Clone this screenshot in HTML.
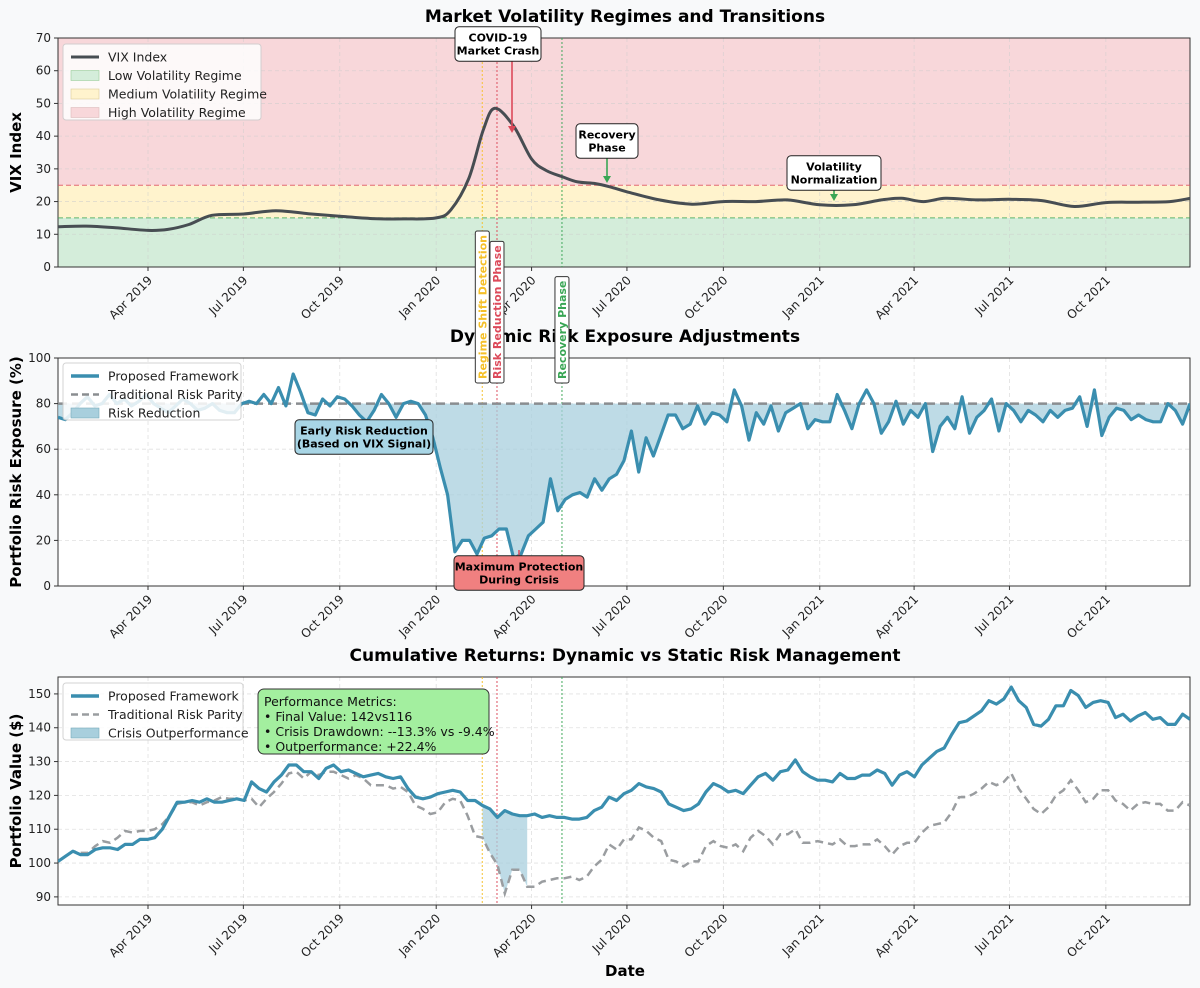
<!DOCTYPE html>
<html><head><meta charset="utf-8"><style>
html,body{margin:0;padding:0;background:#f8f9fa;}
svg{display:block;font-family:"DejaVu Sans","Liberation Sans",sans-serif;}
</style></head><body>
<svg id="c" width="1200" height="988"></svg>
<script>
// ---------- data ----------
const vixDates=["2019-01-05","2019-02-01","2019-03-01","2019-04-01","2019-04-20","2019-05-10","2019-06-01","2019-07-01","2019-08-01","2019-09-01","2019-10-01","2019-11-01","2019-12-01","2020-01-01","2020-01-15","2020-02-01","2020-02-15","2020-02-26","2020-03-15","2020-04-01","2020-04-15","2020-05-01","2020-05-15","2020-06-01","2020-06-15","2020-07-01","2020-08-01","2020-09-01","2020-10-01","2020-11-01","2020-12-01","2021-01-01","2021-02-01","2021-03-01","2021-03-20","2021-04-10","2021-05-01","2021-06-01","2021-07-01","2021-08-01","2021-09-01","2021-10-01","2021-11-01","2021-12-01","2021-12-21"];
const vixValues=[12.3,12.5,12,11.2,11.5,13,15.8,16.2,17.2,16.3,15.5,14.8,14.7,15,17.5,27,42,48.5,43,33,29.5,27.5,26,25.5,24.5,23,20.5,19.2,20,20,20.5,19,19,20.5,21,20,21,20.5,20.7,20.3,18.5,19.7,19.8,20,21];
const tickLabels=["Apr 2019","Jul 2019","Oct 2019","Jan 2020","Apr 2020","Jul 2020","Oct 2020","Jan 2021","Apr 2021","Jul 2021","Oct 2021"];
const tickDates=["2019-04-01","2019-07-01","2019-10-01","2020-01-01","2020-04-01","2020-07-01","2020-10-01","2021-01-01","2021-04-01","2021-07-01","2021-10-01"];
const exposure=[74,73,76,80,83,79,80,84,80,82,79,81,84,80,78,76,79,82,80,77,78,80,77,76,76,80,81,80,84,80,87,79,93,85,76,75,82,79,83,82,79,75,72,77,84,80,74,80,81,80,75,65,52,40,15,20,20,14,21,22,25,25,12,14,22,25,28,47,33,38,40,41,39,47,42,47,49,55,68,50,65,57,66,75,75,69,71,79,71,76,75,72,86,79,64,76,71,79,68,76,78,80,69,73,72,72,84,77,69,80,86,80,67,72,81,71,77,74,80,59,70,74,69,83,67,74,77,82,68,80,77,72,77,75,72,77,74,77,78,83,70,86,66,74,78,77,73,75,73,72,72,80,77,71,80];
const parityExposure=80;
const proposed=[100.5,102,103.5,102.5,102.5,104,104.5,104.5,104,105.5,105.5,107,107,107.5,110,114,118,118,118.5,118,119,118,118,118.5,119,118.5,124,122,121,124,126,129,129,127,127,125,128,129,127,127.5,126.5,125.5,126,126.5,125.5,125,125.5,122,119.5,119,119.5,120.5,121,121.5,121,118.5,118.5,117,116,113.5,115.5,114.5,114,114,114.5,113.5,114,113.5,113.5,113,113,113.5,115.5,116.5,119.5,118.5,120.5,121.5,123.5,122.5,122,121,117.5,116.5,115.5,116,117.5,121,123.5,122.5,121,121.5,120.5,123,125.5,126.5,124.5,127,127.5,130.5,127,125.5,124.5,124.5,124,126.5,125,125,126,126,127.5,126.5,123,126,127,125.5,129,131,133,134,138,141.5,142,143.5,145,148,147,148.5,152,148,146,141,140.5,142.5,146.5,146.5,151,149.5,146,147.5,148,147.5,143,144,142,143.5,144.5,142.5,143,141,141,144,142.5];
const traditional=[100.5,102,103.5,103,103,105,106.5,106,107.5,109.5,109,109.5,109.5,110,111.5,114,117.5,118,118,117,118,118.5,119.5,119,119,118.5,119,116.5,119,121,123.5,126.5,127,125,127,126,127,127,126,125,126,125,123,123,123,122,122.5,121,117,116,114.5,115,118,119,118.5,114,108,107.5,103,99.5,91,98,98,93,93,94.5,95,95.5,95.5,96,95,96,99,101,105.5,104,107,107,110.5,109.5,107.5,106.5,101,100.5,99,100.5,100.5,105,106.5,105,104.5,105.5,103.5,107.5,109.5,108,105.5,108.5,108.5,110,106,106,106.5,106,105.5,107,105,105,105.5,105.5,107,105,102.5,105,106,106,109,111,111.5,112,115,119.5,119.5,120.5,122,124,123,124,126.5,122,119,116,114.5,116.5,120,121.5,124.5,121.5,118,119,121.5,121.5,118.5,117.5,115.5,117.5,118,117.5,117.5,115.5,115.5,118,117];
const crisisStart="2020-02-14", crisisEnd="2020-03-28";
const eventDates=["2020-02-14","2020-02-28","2020-04-30"];
const eventNames=["Regime Shift Detection","Risk Reduction Phase","Recovery Phase"];
const eventColors=["#f5c02a","#dc4a5a","#3aa655"];

// ---------- scales ----------
const NS="http://www.w3.org/2000/svg";
const svg=document.getElementById('c');
const X0=58,X1=1190;
const base=Date.UTC(2019,3,1);
function xd(s){const p=s.split('-');return 148+(Date.UTC(+p[0],+p[1]-1,+p[2])-base)/864e5*1.048;}
function xi(i,n){return X0+i*(X1-X0)/(n-1);}
const P=[{t:38,b:267,min:0,max:70},{t:358,b:586,min:0,max:100},{t:677,b:905,min:87.6,max:155}];
function ys(k,v){const p=P[k];return p.b-(v-p.min)/(p.max-p.min)*(p.b-p.t);}
function el(tag,a,parent){const e=document.createElementNS(NS,tag);for(const k in a)e.setAttribute(k,a[k]);(parent||svg).appendChild(e);return e;}
function txt(s,a,parent){const e=el('text',a,parent);e.textContent=s;return e;}
function clip(k){const c=el('clipPath',{id:'cp'+k});el('rect',{x:X0,y:P[k].t,width:X1-X0,height:P[k].b-P[k].t},c);return 'url(#cp'+k+')';}

function panelFrame(k,yt,ylabel,title){
  const p=P[k];
  el('rect',{x:X0,y:p.t,width:X1-X0,height:p.b-p.t,fill:'#fff'});
  return ()=>{
  const g=el('g',{});
  
  
  tickDates.forEach((d,i)=>{const x=xd(d);
    el('line',{x1:x,x2:x,y1:p.t,y2:p.b,stroke:'#ccc','stroke-dasharray':'4,3','stroke-width':0.8,opacity:0.6},g);
    el('line',{x1:x,x2:x,y1:p.b,y2:p.b+4,stroke:'#333'},g);
    const t=txt(tickLabels[i],{x:x+5,y:p.b+14,'font-size':12,'text-anchor':'end',transform:`rotate(-45 ${x+5} ${p.b+14})`,fill:'#222'},g);
    
    
  });
  yt.forEach(v=>{const y=ys(k,v);
    el('line',{x1:X0,x2:X1,y1:y,y2:y,stroke:'#ccc','stroke-dasharray':'4,3','stroke-width':0.8,opacity:0.6},g);
    el('line',{x1:X0-4,x2:X0,y1:y,y2:y,stroke:'#333'},g);
    txt(String(v),{x:X0-7,y:y+4,'font-size':12,'text-anchor':'end',fill:'#222'},g);
  });
  el('rect',{x:X0,y:p.t,width:X1-X0,height:p.b-p.t,fill:'none',stroke:'#333','stroke-width':1},g);
  const yl=txt(ylabel,{x:0,y:0,'font-size':15,'font-weight':'bold','text-anchor':'middle',transform:`translate(21 ${(p.t+p.b)/2}) rotate(-90)`},g);
  
  
  const tt=txt(title,{x:625,y:p.t-16,'font-size':17,'font-weight':'bold','text-anchor':'middle'},g);
  
  
  };
}
function vlines(k,gp){eventDates.forEach((d,i)=>{const x=xd(d);
  const l=el('line',{x1:x,x2:x,y1:P[k].t,y2:P[k].b,stroke:eventColors[i],'stroke-dasharray':'2,2','stroke-width':1.2,opacity:0.8},gp);
  
  
});}
function pathD(xs,ys_){return xs.map((x,i)=>(i?'L':'M')+x.toFixed(1)+' '+ys_[i].toFixed(1)).join(' ');}
function legend(x,y,w,h,items){
  const g=el('g',{});
  
  
  el('rect',{x,y,width:w,height:h,rx:3,fill:'#fff',opacity:0.85,stroke:'#ccc'},g);
  items.forEach((it,i)=>{const yy=y+13+i*18.5;
    if(it.type==='line')el('line',{x1:x+8,x2:x+36,y1:yy,y2:yy,stroke:it.c,'stroke-width':it.w,'stroke-dasharray':it.d||''},g);
    else el('rect',{x:x+8,y:yy-5,width:28,height:10,fill:it.c,stroke:it.s||'none','stroke-width':0.6},g);
    const t=txt(it.label,{x:x+45,y:yy+4.5,'font-size':12.5,fill:'#222'},g);
    
    
  });
}
function box(lines,cx,cy,fill,opts){
  opts=opts||{};const fs=opts.fs||11,lh=fs*1.2;
  const g=el('g',{});
  
  
  const w=opts.w,h=lines.length*lh+8;
  el('rect',{x:cx-w/2,y:cy-h/2,width:w,height:h,rx:4,fill,stroke:'#222','stroke-width':1},g);
  lines.forEach((s,i)=>txt(s,{x:cx,y:cy-h/2+4+fs*0.95+i*lh,'font-size':fs,'font-weight':'bold','text-anchor':'middle'},g));
}
function arrow(x1,y1,x2,y2,c){
  el('line',{x1,y1,x2,y2:y2-5,stroke:c,'stroke-width':1.6});
  el('polygon',{points:`${x2-4},${y2-7} ${x2+4},${y2-7} ${x2},${y2}`,fill:c});
}
const defs=el('defs',{});

// ---------- Panel 1 ----------
const fin1=panelFrame(0,[0,10,20,30,40,50,60,70],'VIX Index','Market Volatility Regimes and Transitions');
const c0=clip(0);
[[0,15,'#d4edda'],[15,25,'#fff3cd'],[25,70,'#f8d7da']].forEach((r,i)=>{
  const e=el('rect',{x:X0,y:ys(0,r[1]),width:X1-X0,height:ys(0,r[0])-ys(0,r[1]),fill:r[2]});
  
  
});
fin1();
el('line',{x1:X0,x2:X1,y1:ys(0,15),y2:ys(0,15),stroke:'#3aa655','stroke-dasharray':'5,3','stroke-width':1,opacity:0.8});
el('line',{x1:X0,x2:X1,y1:ys(0,25),y2:ys(0,25),stroke:'#dc4a5a','stroke-dasharray':'5,3','stroke-width':1,opacity:0.8});
vlines(0);
(function(){
  const xs=vixDates.map(xd),yv=vixValues.map(v=>ys(0,v));
  let d='M'+xs[0]+' '+yv[0];
  for(let i=0;i<xs.length-1;i++){
    const x0=xs[Math.max(i-1,0)],y0=yv[Math.max(i-1,0)],x3=xs[Math.min(i+2,xs.length-1)],y3=yv[Math.min(i+2,xs.length-1)];
    const c1x=xs[i]+(xs[i+1]-x0)/6,c1y=yv[i]+(yv[i+1]-y0)/6,c2x=xs[i+1]-(x3-xs[i])/6,c2y=yv[i+1]-(y3-yv[i])/6;
    d+=` C${c1x.toFixed(1)} ${c1y.toFixed(1)} ${c2x.toFixed(1)} ${c2y.toFixed(1)} ${xs[i+1].toFixed(1)} ${yv[i+1].toFixed(1)}`;
  }
  const p=el('path',{d,fill:'none',stroke:'#474d52','stroke-width':3,'clip-path':c0});
  
  
})();
legend(63,44,198,76,[{type:'line',c:'#474d52',w:3,label:'VIX Index'},{type:'rect',c:'#d4edda',s:'#9c9',label:'Low Volatility Regime'},{type:'rect',c:'#fff3cd',s:'#dc9',label:'Medium Volatility Regime'},{type:'rect',c:'#f8d7da',s:'#dbb',label:'High Volatility Regime'}]);
arrow(512,58,512,133,'#dc4a5a');
box(['COVID-19','Market Crash'],498,44,'#fff',{w:86,name:'covid-annotation'});
arrow(607,154,607,183,'#3aa655');
box(['Recovery','Phase'],607,141,'#fff',{w:62,name:'recovery-annotation'});
arrow(834,186,834,201,'#3aa655');
box(['Volatility','Normalization'],834,173,'#fff',{w:94,name:'normalization-annotation'});

// ---------- Panel 2 ----------
const fin2=panelFrame(1,[0,20,40,60,80,100],'Portfolio Risk Exposure (%)','Dynamic Risk Exposure Adjustments');
fin2();
const c1=clip(1);
vlines(1);
(function(){
  const n=exposure.length,xs=exposure.map((v,i)=>xi(i,n));
  const top=xs.map(()=>ys(1,parityExposure)),bot=exposure.map(v=>ys(1,Math.min(v,parityExposure)));
  const d=pathD(xs,bot)+' '+xs.slice().reverse().map((x,i)=>'L'+x.toFixed(1)+' '+top[n-1-i].toFixed(1)).join(' ')+'Z';
  const f=el('path',{d,fill:'#a8cfdd',opacity:0.75,'clip-path':c1});
  
  
  const pl=el('line',{x1:X0,x2:X1,y1:ys(1,parityExposure),y2:ys(1,parityExposure),stroke:'#8a8d90','stroke-width':2.5,'stroke-dasharray':'9,5'});
  
  
  const p=el('path',{d:pathD(xs,exposure.map(v=>ys(1,v))),fill:'none',stroke:'#3a8eaf','stroke-width':3.2,'stroke-linejoin':'round','clip-path':c1});
  
  
})();
legend(63,334+29,178,57,[{type:'line',c:'#3a8eaf',w:3.5,label:'Proposed Framework'},{type:'line',c:'#8a8d90',w:2.5,d:'7,4',label:'Traditional Risk Parity'},{type:'rect',c:'#a8cfdd',s:'#7ab',label:'Risk Reduction'}]);
box(['Early Risk Reduction','(Based on VIX Signal)'],364,437,'#a8d5e5',{w:138,name:'early-risk-reduction-annotation'});
el('line',{x1:519,x2:519,y1:550,y2:560,stroke:'#dc4a5a','stroke-width':1.5});
box(['Maximum Protection','During Crisis'],519,573,'#f08080',{w:130,name:'max-protection-annotation'});

// ---------- Panel 3 ----------
const fin3=panelFrame(2,[90,100,110,120,130,140,150],'Portfolio Value ($)','Cumulative Returns: Dynamic vs Static Risk Management');
fin3();
const c2=clip(2);
vlines(2);
(function(){
  const n=proposed.length,xs=proposed.map((v,i)=>xi(i,n));
  const xa=xd(crisisStart),xb=xd(crisisEnd);
  const idx=xs.map((x,i)=>i).filter(i=>xs[i]>=xa-3.7&&xs[i]<=xb+3.7);
  const d=pathD(idx.map(i=>xs[i]),idx.map(i=>ys(2,proposed[i])))+' '+idx.slice().reverse().map(i=>'L'+xs[i].toFixed(1)+' '+ys(2,traditional[i]).toFixed(1)).join(' ')+'Z';
  const f=el('path',{d,fill:'#a8cfdd',opacity:0.75});
  
  
  const t=el('path',{d:pathD(xs,traditional.map(v=>ys(2,v))),fill:'none',stroke:'#9a9da0','stroke-width':2.5,'stroke-dasharray':'8,5','clip-path':c2});
  
  
  const p=el('path',{d:pathD(xs,proposed.map(v=>ys(2,v))),fill:'none',stroke:'#3a8eaf','stroke-width':3.2,'stroke-linejoin':'round','clip-path':c2});
  
  
})();
legend(63,683,180,57,[{type:'line',c:'#3a8eaf',w:3.5,label:'Proposed Framework'},{type:'line',c:'#9a9da0',w:2.5,d:'7,4',label:'Traditional Risk Parity'},{type:'rect',c:'#a8cfdd',s:'#7ab',label:'Crisis Outperformance'}]);
(function(){
  const g=el('g',{});
  
  
  el('rect',{x:258,y:689,width:231,height:65,rx:6,fill:'#a3ef9f',stroke:'#333'},g);
  ['Performance Metrics:','• Final Value: 142vs116','• Crisis Drawdown: --13.3% vs -9.4%','• Outperformance: +22.4%'].forEach((s,i)=>txt(s,{x:264,y:706+i*15,'font-size':12.5,fill:'#111'},g));
})();
const dx=txt('Date',{x:625,y:976,'font-size':15,'font-weight':'bold','text-anchor':'middle'});



// event labels
eventNames.forEach((s,i)=>{const x=xd(eventDates[i]);
  const g=el('g',{transform:`translate(${x} 383) rotate(-90)`});
  
  
  const t=txt(s,{x:4,y:4,'font-size':11,'font-weight':'bold',fill:eventColors[i]},g);
  const w=t.getComputedTextLength();
  const r=el('rect',{x:0,y:-7,width:w+8,height:14,rx:2,fill:'#fff',stroke:'#333','stroke-width':1});
  g.insertBefore(r,t);
});
</script>
</body></html>
